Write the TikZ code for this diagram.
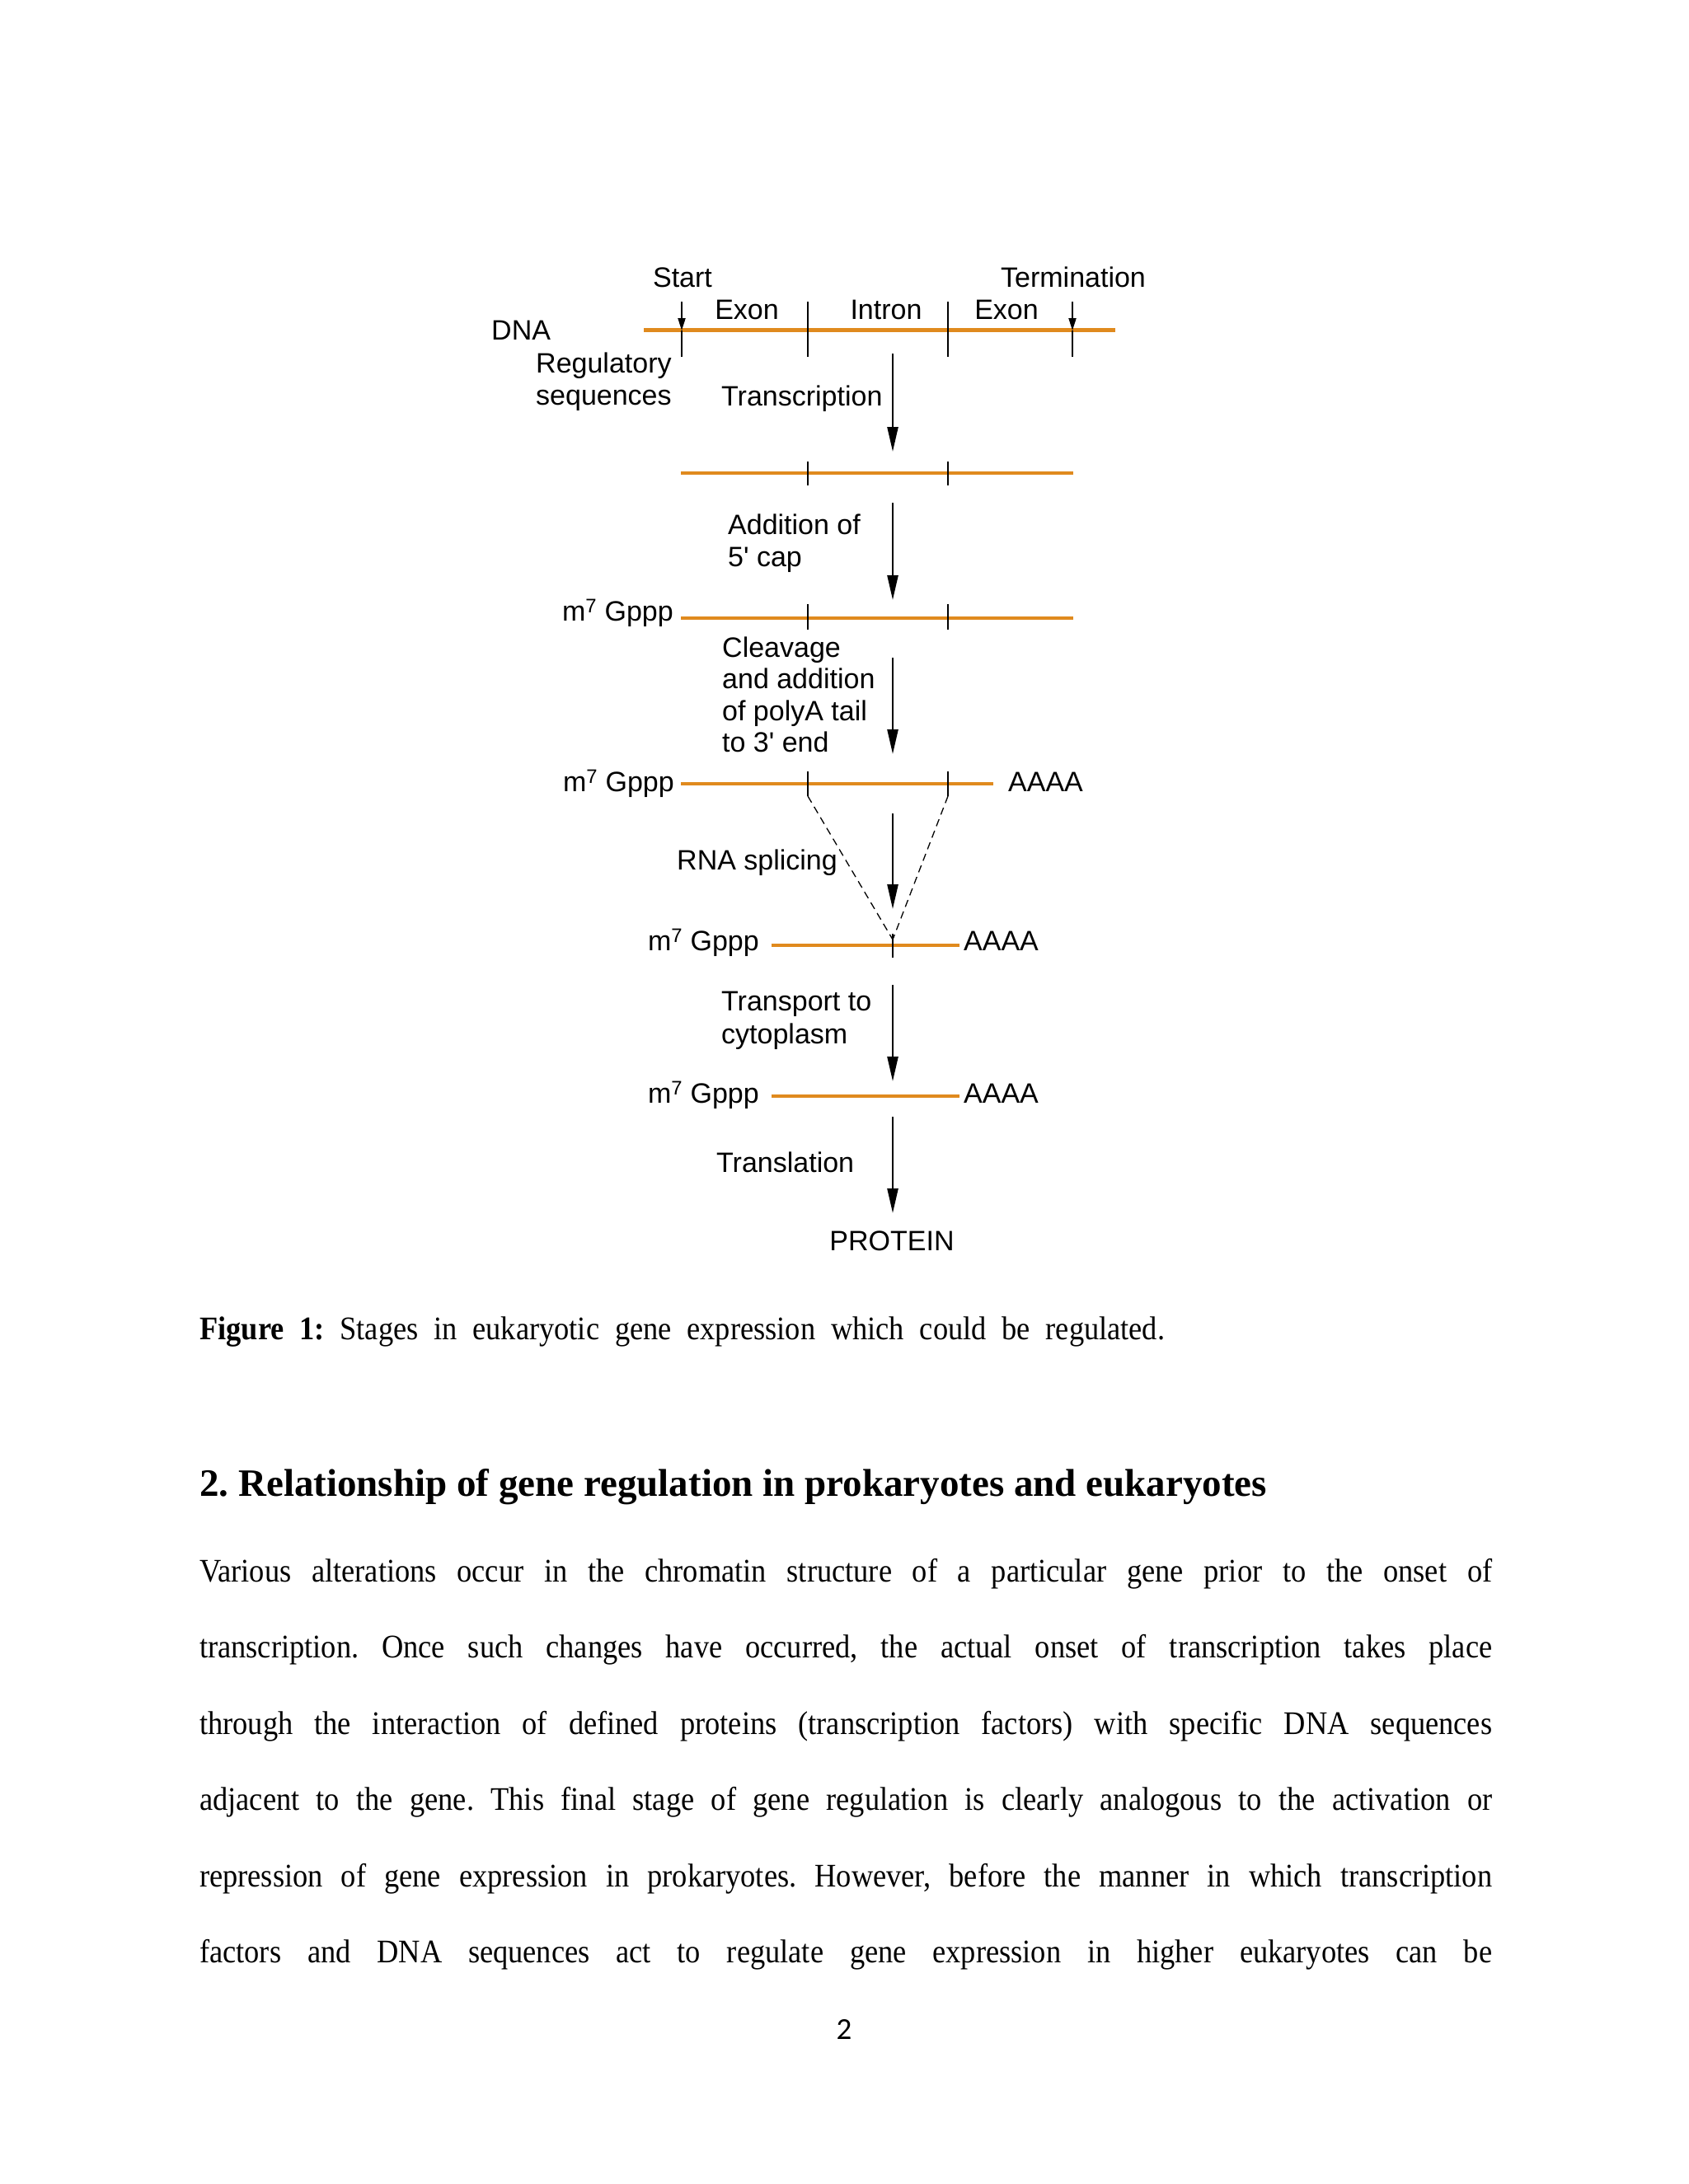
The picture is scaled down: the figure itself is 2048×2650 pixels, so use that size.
\documentclass[tikz,border=0pt]{standalone}
\usepackage{fontspec}
\usetikzlibrary{arrows.meta}
\newfontfamily\arialf{Liberation Sans}
\newfontfamily\bodyf[FakeStretch=0.91]{Liberation Serif}
\newfontfamily\headf{Liberation Serif}
\newfontfamily\pagef{Carlito}
\definecolor{rnaorange}{RGB}{224,138,30}
\frenchspacing
\begin{document}
\begin{tikzpicture}[x=1pt,y=-1pt,
  lbl/.style={inner sep=0pt, font=\arialf\fontsize{34}{40}\selectfont},
  strand/.style={draw=rnaorange, line width=4.5pt},
  tickmark/.style={draw=black, line width=1.8pt},
  flow/.style={draw=black, line width=2.4pt, -{Triangle[length=30pt,width=13pt]}},
  site/.style={draw=black, line width=2pt, -{Triangle[length=15pt,width=9pt]}},
  splice/.style={draw=black, line width=1.3pt, dash pattern=on 9pt off 6pt},
  bodyline/.style={inner sep=0pt, anchor=base west, font=\bodyf\frenchspacing\fontsize{40}{46}\selectfont},
]
\useasboundingbox[fill=white] (0,0) rectangle (2048,2650);

% ---------- DNA ----------
\coordinate (dnaL) at (781,400.5);
\coordinate (dnaR) at (1353,400.5);
\draw[strand] (dnaL) -- (dnaR);
\coordinate (stT) at (827,366); \coordinate (stM) at (827,401); \coordinate (stB) at (827,433);
\coordinate (tmT) at (1301,366); \coordinate (tmM) at (1301,401); \coordinate (tmB) at (1301,433);
\draw[site] (stT) -- (stM); \draw[tickmark] (stM) -- (stB);
\draw[site] (tmT) -- (tmM); \draw[tickmark] (tmM) -- (tmB);
\coordinate (d1T) at (980,366); \coordinate (d1B) at (980,433);
\coordinate (d2T) at (1150,366); \coordinate (d2B) at (1150,433);
\draw[tickmark] (d1T) -- (d1B);
\draw[tickmark] (d2T) -- (d2B);

\node[lbl, anchor=base] (start) at (828,348) {Start};
\node[lbl, anchor=base] (term) at (1302,348) {Termination};
\node[lbl, anchor=base] (exon1) at (906,387) {Exon};
\node[lbl, anchor=base] (intron) at (1075,387) {Intron};
\node[lbl, anchor=base] (exon2) at (1221,387) {Exon};
\node[lbl, anchor=base west] (dna) at (596,412) {DNA};
\node[lbl, anchor=base west] (reg1) at (650,452) {Regulatory};
\node[lbl, anchor=base west] (reg2) at (650,491) {sequences};
\node[lbl, anchor=base west] (transc) at (875,492) {Transcription};

\coordinate (a1T) at (1083,429); \coordinate (a1B) at (1083,548);
\draw[flow] (a1T) -- (a1B);

% ---------- primary transcript ----------
\coordinate (r2L) at (826,574); \coordinate (r2R) at (1302,574);
\draw[strand] (r2L) -- (r2R);
\coordinate (r2aT) at (980,560); \coordinate (r2aB) at (980,589);
\coordinate (r2bT) at (1150,560); \coordinate (r2bB) at (1150,589);
\draw[tickmark] (r2aT) -- (r2aB);
\draw[tickmark] (r2bT) -- (r2bB);

\node[lbl, anchor=base west] (add1) at (883,648) {Addition of};
\node[lbl, anchor=base west] (add2) at (883,687) {5' cap};
\coordinate (a2T) at (1083,610); \coordinate (a2B) at (1083,728);
\draw[flow] (a2T) -- (a2B);

% ---------- capped ----------
\coordinate (r3L) at (826,750); \coordinate (r3R) at (1302,750);
\draw[strand] (r3L) -- (r3R);
\coordinate (r3aT) at (980,733); \coordinate (r3aB) at (980,764);
\coordinate (r3bT) at (1150,733); \coordinate (r3bB) at (1150,764);
\draw[tickmark] (r3aT) -- (r3aB);
\draw[tickmark] (r3bT) -- (r3bB);
\node[lbl, anchor=base east] (cap3) at (817,753) {m\textsuperscript{7} Gppp};

\node[lbl, anchor=base west] (cl1) at (876,797) {Cleavage};
\node[lbl, anchor=base west] (cl2) at (876,835) {and addition};
\node[lbl, anchor=base west] (cl3) at (876,874) {of polyA tail};
\node[lbl, anchor=base west] (cl4) at (876,912) {to 3' end};
\coordinate (a3T) at (1083,798); \coordinate (a3B) at (1083,915);
\draw[flow] (a3T) -- (a3B);

% ---------- polyadenylated ----------
\coordinate (r4L) at (826,951); \coordinate (r4R) at (1205,951);
\draw[strand] (r4L) -- (r4R);
\coordinate (r4aT) at (980,936); \coordinate (r4aB) at (980,966);
\coordinate (r4bT) at (1150,936); \coordinate (r4bB) at (1150,966);
\draw[tickmark] (r4aT) -- (r4aB);
\draw[tickmark] (r4bT) -- (r4bB);
\node[lbl, anchor=base east] (cap4) at (818,960) {m\textsuperscript{7} Gppp};
\node[lbl, anchor=base west] (poly4) at (1223,960) {AAAA};

\coordinate (sp) at (1083,1140);
\draw[splice] (r4aB) -- (sp);
\draw[splice] (r4bB) -- (sp);
\node[lbl, anchor=base west] (splicing) at (821,1055) {RNA splicing};
\coordinate (a4T) at (1083,987); \coordinate (a4B) at (1083,1103);
\draw[flow] (a4T) -- (a4B);

% ---------- spliced ----------
\coordinate (r5L) at (936,1147); \coordinate (r5R) at (1164,1147);
\draw[strand] (r5L) -- (r5R);
\coordinate (r5T) at (1083,1133); \coordinate (r5B) at (1083,1162);
\draw[tickmark] (r5T) -- (r5B);
\node[lbl, anchor=base east] (cap5) at (921,1153) {m\textsuperscript{7} Gppp};
\node[lbl, anchor=base west] (poly5) at (1169,1153) {AAAA};

\node[lbl, anchor=base west] (tr1) at (875,1226) {Transport to};
\node[lbl, anchor=base west] (tr2) at (875,1266) {cytoplasm};
\coordinate (a5T) at (1083,1195); \coordinate (a5B) at (1083,1312);
\draw[flow] (a5T) -- (a5B);

% ---------- cytoplasmic mRNA ----------
\coordinate (r6L) at (936,1330); \coordinate (r6R) at (1164,1330);
\draw[strand] (r6L) -- (r6R);
\node[lbl, anchor=base east] (cap6) at (921,1338) {m\textsuperscript{7} Gppp};
\node[lbl, anchor=base west] (poly6) at (1169,1338) {AAAA};

\node[lbl, anchor=base west] (transl) at (869,1422) {Translation};
\coordinate (a6T) at (1083,1355); \coordinate (a6B) at (1083,1472);
\draw[flow] (a6T) -- (a6B);
\node[lbl, anchor=base] (protein) at (1082,1517) {PROTEIN};

% ---------- caption and text ----------
\node[bodyline] (caption) at (242,1625) {\makebox[1171pt][s]{{\bfseries Figure 1:} Stages in eukaryotic gene expression which could be regulated.}};
\node[inner sep=0pt, anchor=base west, font=\headf\bfseries\fontsize{47}{53}\selectfont] (heading) at (242,1815) {2. Relationship of gene regulation in prokaryotes and eukaryotes};

\node[bodyline] (l1) at (242,1919) {\makebox[1568pt][s]{Various alterations occur in the chromatin structure of a particular gene prior to the onset of}};
\node[bodyline] (l2) at (242,2011.5) {\makebox[1568pt][s]{transcription. Once such changes have occurred, the actual onset of transcription takes place}};
\node[bodyline] (l3) at (242,2104) {\makebox[1568pt][s]{through the interaction of defined proteins (transcription factors) with specific DNA sequences}};
\node[bodyline] (l4) at (242,2196.5) {\makebox[1568pt][s]{adjacent to the gene. This final stage of gene regulation is clearly analogous to the activation or}};
\node[bodyline] (l5) at (242,2289) {\makebox[1568pt][s]{repression of gene expression in prokaryotes. However, before the manner in which transcription}};
\node[bodyline] (l6) at (242,2381.5) {\makebox[1568pt][s]{factors and DNA sequences act to regulate gene expression in higher eukaryotes can be}};

\node[inner sep=0pt, anchor=base, font=\pagef\fontsize{37}{44}\selectfont] (pagenum) at (1024,2474) {2};
\end{tikzpicture}
\end{document}
